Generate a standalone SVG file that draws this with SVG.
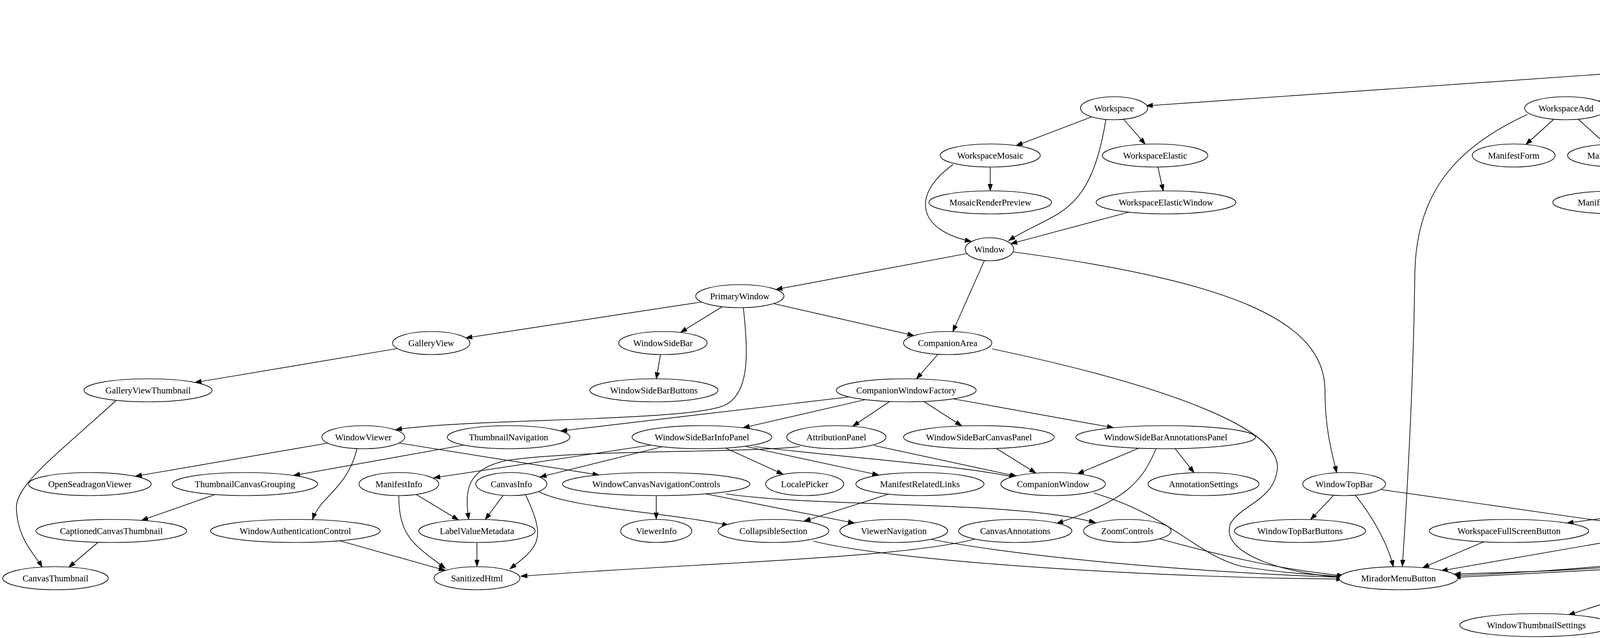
<svg xmlns="http://www.w3.org/2000/svg" width="6626" height="1633" viewBox="0 0 6626 1633">
<style>
.n ellipse{fill:#fff;stroke:#000;stroke-width:1.7}
.n text{font-family:"Liberation Serif","Times New Roman",serif;font-size:23px;text-anchor:middle;fill:#000}
.e path{fill:none;stroke:#000;stroke-width:1.7;marker-end:url(#a)}
</style>
<defs><marker id="a" markerUnits="userSpaceOnUse" markerWidth="20" markerHeight="14" refX="17" refY="6" orient="auto"><path d="M0,0 L17,6 L0,12 z" fill="#000" stroke="#000" stroke-width="1"/></marker></defs>
<rect width="6626" height="1633" fill="#fff"/>
<g id="edges" class="e">
<path d="M4839,52 L4630,133"/>
<path d="M4878,66 L4878,127"/>
<path d="M4917,51 L5143,131"/>
<path d="M4458,165 L2934,271"/>
<path d="M4480,176 L4093,259"/>
<path d="M4613,184 L4728,251"/>
<path d="M4583,187 C4640,420 4960,500 5142,608"/>
<path d="M4567,187 L4567,880 C4567,980 4700,1030 4835,1094"/>
<path d="M2795,299 L2601,373"/>
<path d="M2876,305 L2932,369"/>
<path d="M2831,306 C2790,560 2700,540 2582,616"/>
<path d="M2535,427 L2535,488"/>
<path d="M2440,421 C2330,500 2350,590 2487,618"/>
<path d="M2964,427 L2978,489"/>
<path d="M2890,543 L2587,624"/>
<path d="M3978,305 L3906,370"/>
<path d="M4040,305 L4111,369"/>
<path d="M3910,293 C3720,380 3625,500 3622,700 C3618,1000 3600,1300 3590,1450"/>
<path d="M4143,427 L4143,488"/>
<path d="M2475,649 L1986,741"/>
<path d="M2520,667 L2439,849"/>
<path d="M2595,645 C3150,720 3392,820 3392,1000 C3392,1100 3410,1160 3422,1210"/>
<path d="M1796,773 L1192,865"/>
<path d="M1849,785 L1742,851"/>
<path d="M1980,777 L2340,859"/>
<path d="M1903,788 C1915,900 1920,1000 1860,1035 C1780,1080 1200,1070 1012,1100"/>
<path d="M1018,892 L499,979"/>
<path d="M297,1025 C150,1160 40,1240 42,1300 C44,1380 90,1420 108,1452"/>
<path d="M1691,907 L1680,970"/>
<path d="M2401,907 L2346,970"/>
<path d="M2540,893 C3000,990 3280,1100 3270,1200 C3262,1280 3180,1290 3150,1340 C3120,1420 3300,1470 3440,1478"/>
<path d="M2174,1016 L1435,1103"/>
<path d="M2215,1023 L1902,1095"/>
<path d="M2277,1028 L2183,1091"/>
<path d="M2364,1027 L2462,1090"/>
<path d="M2441,1021 L2851,1095"/>
<path d="M840,1134 L346,1219"/>
<path d="M914,1148 C890,1250 820,1270 800,1330"/>
<path d="M1022,1134 L1534,1216"/>
<path d="M1188,1139 L751,1217"/>
<path d="M550,1266 L362,1332"/>
<path d="M251,1388 L176,1452"/>
<path d="M1667,1139 L1110,1223"/>
<path d="M1697,1143 L1382,1221"/>
<path d="M1858,1147 L2005,1214"/>
<path d="M1906,1142 L2250,1216"/>
<path d="M1930,1143 C2200,1175 2450,1190 2600,1222"/>
<path d="M2048,1143 C1900,1160 1500,1150 1300,1178 C1190,1200 1190,1260 1200,1330"/>
<path d="M2237,1140 L2603,1219"/>
<path d="M2551,1148 L2652,1211"/>
<path d="M2916,1147 L2758,1213"/>
<path d="M3008,1148 L3057,1210"/>
<path d="M2960,1148 C2920,1240 2880,1280 2705,1340"/>
<path d="M1066,1266 L1174,1331"/>
<path d="M1021,1268 C1020,1380 1070,1400 1140,1455"/>
<path d="M1288,1268 L1242,1330"/>
<path d="M1345,1266 C1400,1380 1380,1400 1305,1456"/>
<path d="M1375,1256 C1450,1300 1700,1310 1866,1345"/>
<path d="M1680,1268 L1680,1329"/>
<path d="M1806,1264 L2188,1339"/>
<path d="M1858,1264 C2100,1300 2600,1280 2805,1338"/>
<path d="M2274,1265 L2058,1334"/>
<path d="M2800,1262 C3000,1320 3060,1420 3180,1450 C3300,1470 3400,1472 3440,1476"/>
<path d="M2082,1385 C2300,1440 3000,1480 3438,1482"/>
<path d="M2386,1381 C2700,1440 3200,1470 3439,1478"/>
<path d="M2965,1378 C3150,1430 3300,1460 3440,1474"/>
<path d="M2495,1380 C2300,1430 1800,1440 1333,1475"/>
<path d="M1221,1388 L1221,1450"/>
<path d="M862,1382 L1140,1460"/>
<path d="M3414,1268 L3355,1330"/>
<path d="M3470,1268 C3520,1330 3555,1400 3567,1451"/>
<path d="M3535,1253 L4152,1341"/>
<path d="M4918,1147 L4808,1210"/>
<path d="M5017,1147 L5129,1211"/>
<path d="M5065,1143 L5384,1223"/>
<path d="M4601,1260 L4011,1339"/>
<path d="M4737,1268 L4695,1330"/>
<path d="M4822,1267 L4972,1333"/>
<path d="M4883,1263 L5268,1338"/>
<path d="M4929,1260 C4990,1280 5020,1272 5120,1272 C5450,1270 5590,1320 5585,1420 C5580,1490 5380,1540 5298,1585"/>
<path d="M3798,1387 L3642,1453"/>
<path d="M4161,1379 L3689,1461"/>
<path d="M4281,1388 L4303,1451"/>
<path d="M4541,1381 C4200,1470 3900,1460 3722,1470"/>
<path d="M4676,1388 L4678,1450"/>
<path d="M4925,1380 C4850,1420 4600,1400 4200,1440 C4000,1460 3850,1468 3722,1474"/>
<path d="M5033,1388 L5033,1450"/>
<path d="M5260,1380 C5230,1395 5200,1400 5100,1405 C4700,1430 4000,1460 3722,1478"/>
<path d="M5468,1383 L5754,1459"/>
<path d="M4236,1503 L4015,1574"/>
<path d="M4308,1509 L4318,1570"/>
<path d="M4415,1500 C4600,1560 4900,1530 5050,1555 C5110,1565 5140,1575 5160,1583"/>
<path d="M4678,1509 L4667,1570"/>
<path d="M4744,1507 L4904,1574"/>
<path d="M4784,1503 L5157,1584"/>
<path d="M5744,1498 Q5450,1520 5311,1585"/>
<path d="M5770,1504 L5584,1574"/>
<path d="M5834,1509 L5834,1570"/>
<path d="M5890,1506 L6046,1576"/>
<path d="M5923,1498 L6306,1576"/>
<path d="M5360,655 C5520,720 5660,850 5660,1000 L5660,1260 C5660,1400 5450,1500 5320,1582"/>
</g>
<g id="App" class="n"><ellipse cx="4878" cy="37" rx="45" ry="29.5"/><text x="4878" y="45">App</text></g>
<g id="WorkspaceArea" class="n"><ellipse cx="4567" cy="157" rx="113" ry="29.5"/><text x="4567" y="165">WorkspaceArea</text></g>
<g id="AuthenticationSender" class="n"><ellipse cx="4878" cy="157" rx="160" ry="29.5"/><text x="4878" y="165">AuthenticationSender</text></g>
<g id="AccessTokenSender" class="n"><ellipse cx="5215" cy="157" rx="142" ry="29.5"/><text x="5215" y="165">AccessTokenSender</text></g>
<g id="Workspace" class="n"><ellipse cx="2852" cy="277" rx="86" ry="29.5"/><text x="2852" y="285">Workspace</text></g>
<g id="WorkspaceAdd" class="n"><ellipse cx="4009" cy="277" rx="106" ry="29.5"/><text x="4009" y="285">WorkspaceAdd</text></g>
<g id="ErrorDialog" class="n"><ellipse cx="4773" cy="277" rx="97" ry="29.5"/><text x="4773" y="285">ErrorDialog</text></g>
<g id="WorkspaceMosaic" class="n"><ellipse cx="2535" cy="398" rx="128" ry="29.5"/><text x="2535" y="406">WorkspaceMosaic</text></g>
<g id="WorkspaceElastic" class="n"><ellipse cx="2957" cy="398" rx="135" ry="29.5"/><text x="2957" y="406">WorkspaceElastic</text></g>
<g id="ManifestForm" class="n"><ellipse cx="3875" cy="398" rx="106" ry="29.5"/><text x="3875" y="406">ManifestForm</text></g>
<g id="ManifestListItem" class="n"><ellipse cx="4143" cy="398" rx="130" ry="29.5"/><text x="4143" y="406">ManifestListItem</text></g>
<g id="MosaicRenderPreview" class="n"><ellipse cx="2535" cy="518" rx="157" ry="29.5"/><text x="2535" y="526">MosaicRenderPreview</text></g>
<g id="WorkspaceElasticWindow" class="n"><ellipse cx="2985" cy="518" rx="179" ry="29.5"/><text x="2985" y="526">WorkspaceElasticWindow</text></g>
<g id="ManifestListItemError" class="n"><ellipse cx="4143" cy="518" rx="168" ry="29.5"/><text x="4143" y="526">ManifestListItemError</text></g>
<g id="Window" class="n"><ellipse cx="2533" cy="638" rx="62" ry="29.5"/><text x="2533" y="646">Window</text></g>
<g id="BackgroundPluginArea" class="n"><ellipse cx="5220" cy="638" rx="164" ry="29.5"/><text x="5220" y="646">BackgroundPluginArea</text></g>
<g id="PrimaryWindow" class="n"><ellipse cx="1894" cy="758" rx="113" ry="29.5"/><text x="1894" y="766">PrimaryWindow</text></g>
<g id="GalleryView" class="n"><ellipse cx="1104" cy="878" rx="99" ry="29.5"/><text x="1104" y="886">GalleryView</text></g>
<g id="WindowSideBar" class="n"><ellipse cx="1697" cy="878" rx="113" ry="29.5"/><text x="1697" y="886">WindowSideBar</text></g>
<g id="CompanionArea" class="n"><ellipse cx="2426" cy="878" rx="113" ry="29.5"/><text x="2426" y="886">CompanionArea</text></g>
<g id="GalleryViewThumbnail" class="n"><ellipse cx="379" cy="999" rx="164" ry="29.5"/><text x="379" y="1007">GalleryViewThumbnail</text></g>
<g id="WindowSideBarButtons" class="n"><ellipse cx="1674" cy="999" rx="164" ry="29.5"/><text x="1674" y="1007">WindowSideBarButtons</text></g>
<g id="CompanionWindowFactory" class="n"><ellipse cx="2320" cy="999" rx="179" ry="29.5"/><text x="2320" y="1007">CompanionWindowFactory</text></g>
<g id="WindowViewer" class="n"><ellipse cx="930" cy="1119" rx="106" ry="29.5"/><text x="930" y="1127">WindowViewer</text></g>
<g id="ThumbnailNavigation" class="n"><ellipse cx="1302" cy="1119" rx="157" ry="29.5"/><text x="1302" y="1127">ThumbnailNavigation</text></g>
<g id="WindowSideBarInfoPanel" class="n"><ellipse cx="1797" cy="1119" rx="179" ry="29.5"/><text x="1797" y="1127">WindowSideBarInfoPanel</text></g>
<g id="AttributionPanel" class="n"><ellipse cx="2141" cy="1119" rx="127" ry="29.5"/><text x="2141" y="1127">AttributionPanel</text></g>
<g id="WindowSideBarCanvasPanel" class="n"><ellipse cx="2506" cy="1119" rx="193" ry="29.5"/><text x="2506" y="1127">WindowSideBarCanvasPanel</text></g>
<g id="WindowSideBarAnnotationsPanel" class="n"><ellipse cx="2984" cy="1119" rx="230" ry="29.5"/><text x="2984" y="1127">WindowSideBarAnnotationsPanel</text></g>
<g id="WorkspaceControlPanel" class="n"><ellipse cx="4968" cy="1119" rx="171" ry="29.5"/><text x="4968" y="1127">WorkspaceControlPanel</text></g>
<g id="OpenSeadragonViewer" class="n"><ellipse cx="230" cy="1239" rx="157" ry="29.5"/><text x="230" y="1247">OpenSeadragonViewer</text></g>
<g id="ThumbnailCanvasGrouping" class="n"><ellipse cx="627" cy="1239" rx="186" ry="29.5"/><text x="627" y="1247">ThumbnailCanvasGrouping</text></g>
<g id="ManifestInfo" class="n"><ellipse cx="1021" cy="1239" rx="102" ry="29.5"/><text x="1021" y="1247">ManifestInfo</text></g>
<g id="CanvasInfo" class="n"><ellipse cx="1309" cy="1239" rx="91" ry="29.5"/><text x="1309" y="1247">CanvasInfo</text></g>
<g id="WindowCanvasNavigationControls" class="n"><ellipse cx="1680" cy="1239" rx="240" ry="29.5"/><text x="1680" y="1247">WindowCanvasNavigationControls</text></g>
<g id="LocalePicker" class="n"><ellipse cx="2060" cy="1239" rx="100" ry="29.5"/><text x="2060" y="1247">LocalePicker</text></g>
<g id="ManifestRelatedLinks" class="n"><ellipse cx="2355" cy="1239" rx="164" ry="29.5"/><text x="2355" y="1247">ManifestRelatedLinks</text></g>
<g id="CompanionWindow" class="n"><ellipse cx="2696" cy="1239" rx="134" ry="29.5"/><text x="2696" y="1247">CompanionWindow</text></g>
<g id="AnnotationSettings" class="n"><ellipse cx="3081" cy="1239" rx="142" ry="29.5"/><text x="3081" y="1247">AnnotationSettings</text></g>
<g id="WindowTopBar" class="n"><ellipse cx="3441" cy="1239" rx="106" ry="29.5"/><text x="3441" y="1247">WindowTopBar</text></g>
<g id="WorkspaceControlPanelButtons" class="n"><ellipse cx="4757" cy="1239" rx="225" ry="29.5"/><text x="4757" y="1247">WorkspaceControlPanelButtons</text></g>
<g id="WorkspaceAddButton" class="n"><ellipse cx="5178" cy="1239" rx="149" ry="29.5"/><text x="5178" y="1247">WorkspaceAddButton</text></g>
<g id="Branding" class="n"><ellipse cx="5448" cy="1239" rx="78" ry="29.5"/><text x="5448" y="1247">Branding</text></g>
<g id="CaptionedCanvasThumbnail" class="n"><ellipse cx="285" cy="1359" rx="193" ry="29.5"/><text x="285" y="1367">CaptionedCanvasThumbnail</text></g>
<g id="WindowAuthenticationControl" class="n"><ellipse cx="756" cy="1359" rx="217" ry="29.5"/><text x="756" y="1367">WindowAuthenticationControl</text></g>
<g id="LabelValueMetadata" class="n"><ellipse cx="1221" cy="1359" rx="149" ry="29.5"/><text x="1221" y="1367">LabelValueMetadata</text></g>
<g id="ViewerInfo" class="n"><ellipse cx="1680" cy="1359" rx="91" ry="29.5"/><text x="1680" y="1367">ViewerInfo</text></g>
<g id="CollapsibleSection" class="n"><ellipse cx="1980" cy="1359" rx="142" ry="29.5"/><text x="1980" y="1367">CollapsibleSection</text></g>
<g id="ViewerNavigation" class="n"><ellipse cx="2288" cy="1359" rx="138" ry="29.5"/><text x="2288" y="1367">ViewerNavigation</text></g>
<g id="CanvasAnnotations" class="n"><ellipse cx="2599" cy="1359" rx="145" ry="29.5"/><text x="2599" y="1367">CanvasAnnotations</text></g>
<g id="ZoomControls" class="n"><ellipse cx="2886" cy="1359" rx="112" ry="29.5"/><text x="2886" y="1367">ZoomControls</text></g>
<g id="WindowTopBarButtons" class="n"><ellipse cx="3328" cy="1359" rx="168" ry="29.5"/><text x="3328" y="1367">WindowTopBarButtons</text></g>
<g id="WorkspaceFullScreenButton" class="n"><ellipse cx="3863" cy="1359" rx="204" ry="29.5"/><text x="3863" y="1367">WorkspaceFullScreenButton</text></g>
<g id="WindowTopMenuButton" class="n"><ellipse cx="4277" cy="1359" rx="166" ry="29.5"/><text x="4277" y="1367">WindowTopMenuButton</text></g>
<g id="WorkspaceOptionsButton" class="n"><ellipse cx="4675" cy="1359" rx="179" ry="29.5"/><text x="4675" y="1367">WorkspaceOptionsButton</text></g>
<g id="WindowListButton" class="n"><ellipse cx="5033" cy="1359" rx="135" ry="29.5"/><text x="5033" y="1367">WindowListButton</text></g>
<g id="WorkspaceMenuButton" class="n"><ellipse cx="5377" cy="1359" rx="164" ry="29.5"/><text x="5377" y="1367">WorkspaceMenuButton</text></g>
<g id="CanvasThumbnail" class="n"><ellipse cx="142" cy="1480" rx="135" ry="29.5"/><text x="142" y="1488">CanvasThumbnail</text></g>
<g id="SanitizedHtml" class="n"><ellipse cx="1221" cy="1480" rx="110" ry="29.5"/><text x="1221" y="1488">SanitizedHtml</text></g>
<g id="MiradorMenuButton" class="n"><ellipse cx="3580" cy="1480" rx="152" ry="29.5"/><text x="3580" y="1488">MiradorMenuButton</text></g>
<g id="WindowTopMenu" class="n"><ellipse cx="4307" cy="1480" rx="137" ry="29.5"/><text x="4307" y="1488">WindowTopMenu</text></g>
<g id="WorkspaceOptionsMenu" class="n"><ellipse cx="4679" cy="1480" rx="178" ry="29.5"/><text x="4679" y="1488">WorkspaceOptionsMenu</text></g>
<g id="WindowList" class="n"><ellipse cx="5033" cy="1480" rx="98" ry="29.5"/><text x="5033" y="1488">WindowList</text></g>
<g id="WorkspaceMenu" class="n"><ellipse cx="5834" cy="1480" rx="128" ry="29.5"/><text x="5834" y="1488">WorkspaceMenu</text></g>
<g id="WindowThumbnailSettings" class="n"><ellipse cx="3933" cy="1600" rx="196" ry="29.5"/><text x="3933" y="1608">WindowThumbnailSettings</text></g>
<g id="WindowViewSettings" class="n"><ellipse cx="4319" cy="1600" rx="160" ry="29.5"/><text x="4319" y="1608">WindowViewSettings</text></g>
<g id="WorkspaceImport" class="n"><ellipse cx="4666" cy="1600" rx="135" ry="29.5"/><text x="4666" y="1608">WorkspaceImport</text></g>
<g id="WorkspaceExport" class="n"><ellipse cx="4966" cy="1600" rx="135" ry="29.5"/><text x="4966" y="1608">WorkspaceExport</text></g>
<g id="PluginHook" class="n"><ellipse cx="5233" cy="1600" rx="97" ry="29.5"/><text x="5233" y="1608">PluginHook</text></g>
<g id="ChangeThemeDialog" class="n"><ellipse cx="5515" cy="1600" rx="156" ry="29.5"/><text x="5515" y="1608">ChangeThemeDialog</text></g>
<g id="LanguageSettings" class="n"><ellipse cx="5834" cy="1600" rx="135" ry="29.5"/><text x="5834" y="1608">LanguageSettings</text></g>
<g id="NestedMenu" class="n"><ellipse cx="6099" cy="1600" rx="100" ry="29.5"/><text x="6099" y="1608">NestedMenu</text></g>
<g id="WorkspaceSelectionDialog" class="n"><ellipse cx="6422" cy="1600" rx="196" ry="29.5"/><text x="6422" y="1608">WorkspaceSelectionDialog</text></g>
</svg>
